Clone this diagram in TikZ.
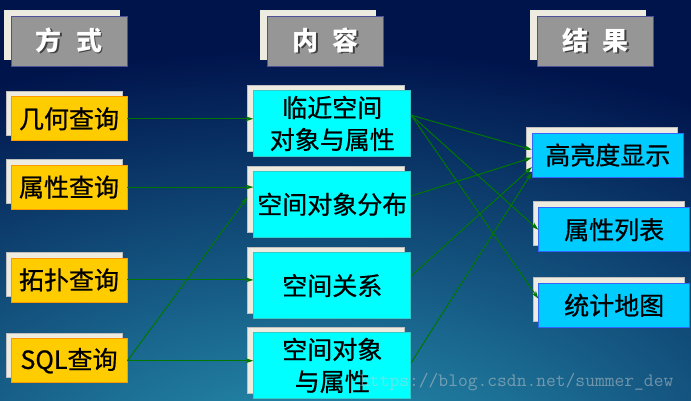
\documentclass[tikz,border=0pt]{standalone}
\usepackage{fontspec}
\setmainfont{Noto Sans CJK SC}
\newfontfamily\boxfont{Noto Sans CJK SC}[FakeBold=0.7]
\usepackage{tikz}
\usetikzlibrary{arrows.meta, positioning, shadows}
\definecolor{navy}{RGB}{0,20,76}
\definecolor{bgteal}{RGB}{40,150,180}
\definecolor{paper}{RGB}{238,236,225}
\definecolor{qfill}{RGB}{255,204,0}
\definecolor{qline}{RGB}{255,153,0}
\definecolor{cfill}{RGB}{0,255,255}
\definecolor{cline}{RGB}{51,204,204}
\definecolor{rfill}{RGB}{0,204,255}
\definecolor{rline}{RGB}{51,102,255}
\definecolor{hfill}{RGB}{150,150,150}
\definecolor{hline}{RGB}{80,80,150}
\definecolor{linkgreen}{RGB}{0,120,0}
\newcommand{\shadowtext}[1]{\makebox[0pt][l]{\kern1.5pt\raisebox{-1.5pt}{\color{black!75}#1}}#1}
\tikzstyle{box} = [rectangle, inner sep=0pt, align=center, line width=0.8pt, font=\boxfont\fontsize{25}{32}\selectfont]
\tikzstyle{head} = [box, minimum width=116pt, minimum height=50pt, fill=hfill, draw=hline, text=white, font=\fontsize{26}{28}\selectfont\bfseries, general shadow={fill=paper, shadow xshift=-7.5pt, shadow yshift=6.5pt}]
\tikzstyle{query} = [box, minimum width=116pt, minimum height=44pt, fill=qfill, draw=qline, general shadow={fill=paper, draw=gray!50, shadow xshift=-4.5pt, shadow yshift=5.5pt}]
\tikzstyle{content} = [box, minimum width=157pt, minimum height=66pt, fill=cfill, draw=cline, general shadow={fill=paper, draw=gray!50, shadow xshift=-6.5pt, shadow yshift=5pt}]
\tikzstyle{result} = [box, minimum width=151pt, minimum height=44pt, fill=rfill, draw=rline, general shadow={fill=paper, draw=gray!50, shadow xshift=-5.5pt, shadow yshift=6pt}]
\tikzstyle{link} = [draw=linkgreen, line width=1pt, -{Stealth[length=8pt, width=5pt]}]

\begin{document}
\begin{tikzpicture}[x=1pt, y=-1pt]
        \useasboundingbox (0,0) rectangle (691,400);
        % background
        \fill[navy] (0,0) rectangle (691,400);
        \begin{scope}
            \clip (0,0) rectangle (691,400);
            \shade[inner color=bgteal, outer color=navy] (310,470) ellipse [x radius=800pt, y radius=420pt];
        \end{scope}

        \node[head] (head-1) at (69,41) {\shadowtext{方\hspace{0.55em}式}};
        \node[head] (head-2) at (325.8,41) {\shadowtext{内\hspace{0.55em}容}};
        \node[head] (head-3) at (595.8,41) {\shadowtext{结\hspace{0.55em}果}};

        \node[query, below=30pt of head-1] (q-1) {几何查询};
        \node[query, below=23.5pt of q-1] (q-2) {属性查询};
        \node[query, below=48pt of q-2] (q-3) {拓扑查询};
        \node[query, below=36pt of q-3] (q-4) {SQL查询};

        \node[content, below=23.7pt of head-2, xshift=6.5pt] (c-1) {临近空间\\对象与属性};
        \node[content, below=14pt of c-1] (c-2) {空间对象分布};
        \node[content, below=14.5pt of c-2] (c-3) {空间关系};
        \node[content, below=13pt of c-3] (c-4) {空间对象\\与属性};

        \node[result] (r-1) at (607.8,155) {高亮度显示};
        \node[result, below=30pt of r-1, xshift=6.4pt] (r-2) {属性列表};
        \node[result, below=30.7pt of r-2] (r-3) {统计地图};

        \draw[link] (q-1.east) -- (q-1.east -| c-1.west);
        \draw[link] (q-2.east) -- (q-2.east -| c-2.west);
        \draw[link] (q-3.east) -- (q-3.east -| c-3.west);
        \draw[link] (q-4.east) -- (q-4.east -| c-4.west);
        \draw[link] (q-4.east) -- ([xshift=-6pt, yshift=7pt]c-2.west);

        \draw[link] (c-1.6) -- (r-1.176);
        \draw[link] (c-1.6) -- (r-2.west);
        \draw[link] (c-1.6) -- (r-3.175);
        \draw[link] (c-2.6) -- (r-1.182);
        \draw[link] (c-3.7) -- (r-1.189);
        \draw[link] (c-4.2) -- (r-1.193);

        \node[font=\fontsize{19}{19}\ttfamily, text=black!20, opacity=0.5, anchor=base west, inner sep=0pt] (mark) at (360,386) {https://blog.csdn.net/summer\_dew};

\end{tikzpicture}
\end{document}
